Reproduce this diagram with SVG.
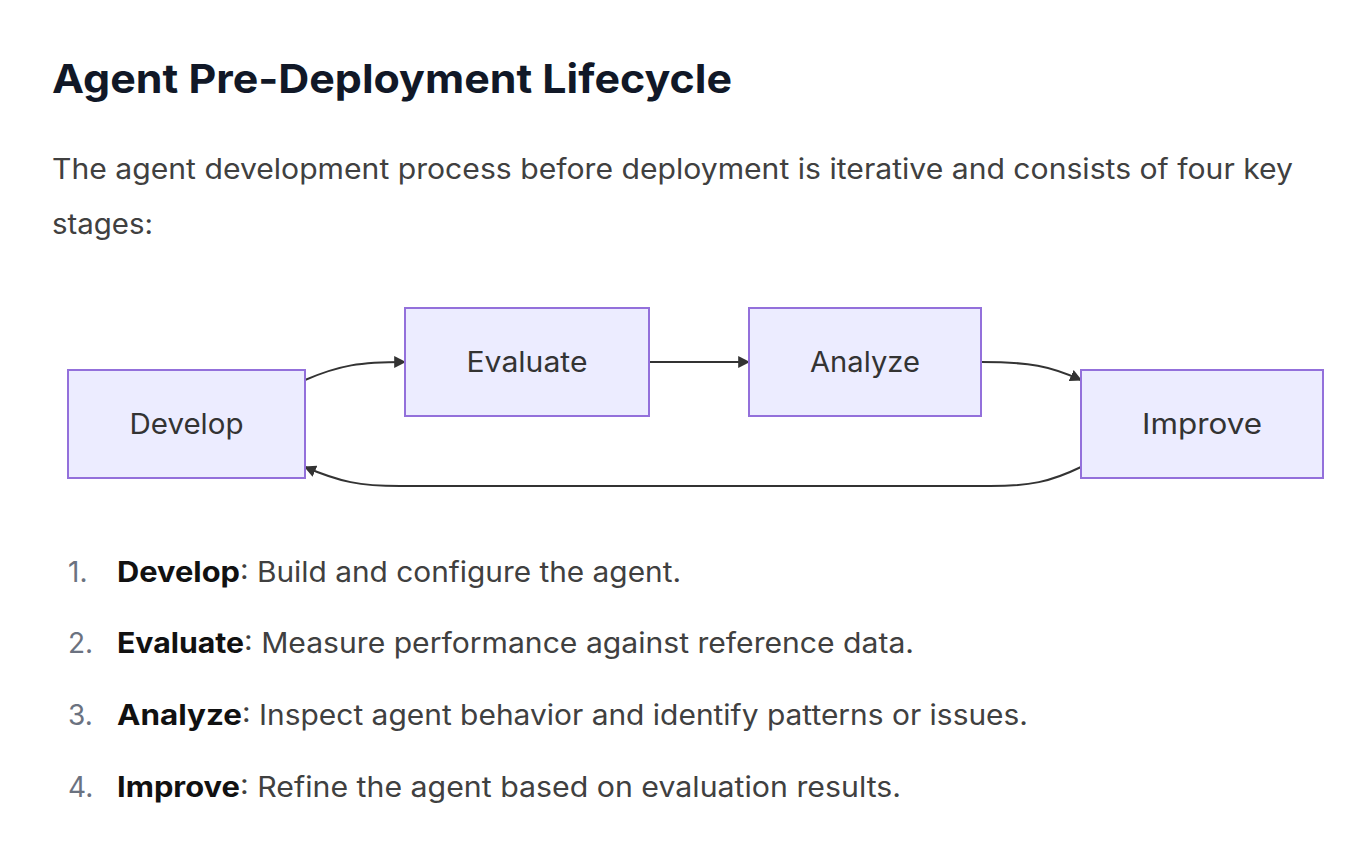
<svg xmlns="http://www.w3.org/2000/svg" width="1368" height="852" viewBox="0 0 1368 852">
<style>
text{font-family:Inter,"Noto Sans",sans-serif}
.t{font-size:40px;font-weight:700;fill:#111827}
.p{font-size:28px;fill:#404040}
.n rect{fill:#ECECFF;stroke:#9370DB;stroke-width:2}
.n text{font-size:28px;fill:#333;text-anchor:middle;dominant-baseline:central}
.c path{fill:none;stroke:#333;stroke-width:2;marker-end:url(#a)}
.num{fill:#6b7280}
.b{font-weight:700;fill:#111}
</style>
<defs><marker id="a" viewBox="0 0 10 10" refX="9" refY="5" markerWidth="12" markerHeight="12" markerUnits="userSpaceOnUse" orient="auto"><path d="M0,0L10,5L0,10z" fill="#333"/></marker></defs>
<rect width="1368" height="852" fill="#fff"/>
<text class="t" x="52" y="93" textLength="680" lengthAdjust="spacingAndGlyphs">Agent Pre-Deployment Lifecycle</text>
<text class="p" x="52" y="179" textLength="1241" lengthAdjust="spacingAndGlyphs">The agent development process before deployment is iterative and consists of four key</text>
<text class="p" x="52" y="234" textLength="101" lengthAdjust="spacingAndGlyphs">stages:</text>
<g class="c">
<path d="M305,380 C340,365 360,362 405,362"/>
<path d="M649,362 L749,362"/>
<path d="M981,362 C1030,362 1050,366 1081,380"/>
<path d="M1081,467 C1050,482 1030,486 990,486 L400,486 C360,486 340,482 305,467"/>
</g>
<g id="develop" class="n"><rect x="68" y="370" width="237" height="108"/><text x="186.5" y="424" textLength="114" lengthAdjust="spacingAndGlyphs">Develop</text></g>
<g id="evaluate" class="n"><rect x="405" y="308" width="244" height="108"/><text x="527" y="362" textLength="121" lengthAdjust="spacingAndGlyphs">Evaluate</text></g>
<g id="analyze" class="n"><rect x="749" y="308" width="232" height="108"/><text x="865" y="362" textLength="110" lengthAdjust="spacingAndGlyphs">Analyze</text></g>
<g id="improve" class="n"><rect x="1081" y="370" width="242" height="108"/><text x="1202" y="424" textLength="120" lengthAdjust="spacingAndGlyphs">Improve</text></g>
<g class="p">
<text class="num" x="68" y="582">1.</text><text class="b" x="117" y="582" textLength="123" lengthAdjust="spacingAndGlyphs">Develop</text><text x="240" y="582" textLength="441" lengthAdjust="spacingAndGlyphs">: Build and configure the agent.</text>
<text class="num" x="68" y="653">2.</text><text class="b" x="117" y="653" textLength="127" lengthAdjust="spacingAndGlyphs">Evaluate</text><text x="244" y="653" textLength="670" lengthAdjust="spacingAndGlyphs">: Measure performance against reference data.</text>
<text class="num" x="68" y="725">3.</text><text class="b" x="117" y="725" textLength="125" lengthAdjust="spacingAndGlyphs">Analyze</text><text x="242" y="725" textLength="786" lengthAdjust="spacingAndGlyphs">: Inspect agent behavior and identify patterns or issues.</text>
<text class="num" x="68" y="797">4.</text><text class="b" x="117" y="797" textLength="123" lengthAdjust="spacingAndGlyphs">Improve</text><text x="240" y="797" textLength="661" lengthAdjust="spacingAndGlyphs">: Refine the agent based on evaluation results.</text>
</g>
</svg>
